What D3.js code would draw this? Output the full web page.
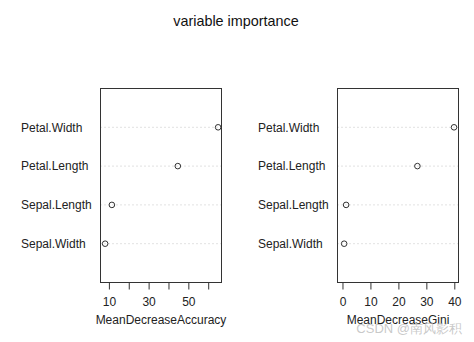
<!DOCTYPE html>
<html><head><meta charset="utf-8">
<script src="https://cdn.jsdelivr.net/npm/d3@7"></script>
<style>body{margin:0;background:#fff}svg{display:block}text{font-family:"Liberation Sans",Arial,sans-serif}</style>
</head><body>
<script>
const categories = ["Petal.Width","Petal.Length","Sepal.Length","Sepal.Width"];
const meanDecreaseAccuracy = [65.0, 44.7, 11.5, 8.1];
const meanDecreaseGini = [39.9, 26.8, 1.3, 0.6];
const accuracyLim = [5.77, 66.7];
const giniLim = [-1.78, 41.5];
const accuracyTicks = [10,20,30,40,50,60];
const accuracyTickLabels = ["10","","30","","50",""];
const giniTicks = [0,10,20,30,40];
const giniTickLabels = ["0","10","20","30","40"];

const W=474,H=342;
const svg=d3.select("body").append("svg").attr("width",W).attr("height",H);
svg.append("rect").attr("width",W).attr("height",H).attr("fill","#fff");

svg.append("text").attr("x",236).attr("y",26).attr("text-anchor","middle")
  .attr("font-size",14.4).attr("fill","#111").text("variable importance");

const y=d3.scaleLinear().domain([0,categories.length+1]).range([282.5,88.5]);

function panel(vals,lim,ticks,tickLabels,title,x0,x1,labelX){
  const x=d3.scaleLinear().domain(lim).range([x0,x1]);
  const g=svg.append("g");
  categories.forEach((c,i)=>{
    const yy=y(categories.length-i);
    g.append("line").attr("x1",x0).attr("x2",x1).attr("y1",yy).attr("y2",yy)
      .attr("stroke","#c4c4c4").attr("stroke-width",1).attr("stroke-dasharray","1,3");
    g.append("text").attr("x",labelX).attr("y",yy).attr("dy","0.35em")
      .attr("font-size",12).attr("fill","#222").text(c);
  });
  g.selectAll("circle.pt").data(vals).join("circle").attr("class","pt")
    .attr("cx",d=>x(d)).attr("cy",(d,i)=>y(categories.length-i)).attr("r",2.8)
    .attr("fill","none").attr("stroke","#333").attr("stroke-width",1);
  g.append("rect").attr("x",x0).attr("y",88.5).attr("width",x1-x0).attr("height",282.5-88.5)
    .attr("fill","none").attr("stroke","#333").attr("stroke-width",1);
  const ax=svg.append("g").attr("transform","translate(0,282.5)")
    .call(d3.axisBottom(x).tickValues(ticks).tickSize(7).tickPadding(8)
      .tickFormat((d,i)=>tickLabels[i]));
  ax.select(".domain").attr("d",`M${x(ticks[0])},0H${x(ticks[ticks.length-1])}`).attr("stroke","#333");
  ax.selectAll(".tick line").attr("stroke","#333");
  ax.selectAll(".tick text").attr("font-size",12).attr("fill","#222")
    .attr("font-family","Liberation Sans,Arial,sans-serif");
  svg.append("text").attr("x",(x0+x1)/2).attr("y",323.5).attr("text-anchor","middle")
    .attr("font-size",12).attr("fill","#222").text(title);
}
panel(meanDecreaseAccuracy,accuracyLim,accuracyTicks,accuracyTickLabels,"MeanDecreaseAccuracy",100.5,221.5,21);
panel(meanDecreaseGini,giniLim,giniTicks,giniTickLabels,"MeanDecreaseGini",337.5,458.5,258);

svg.append("text").attr("x",462).attr("y",333).attr("text-anchor","end")
  .attr("font-size",13).attr("fill","#bbb").attr("fill-opacity",0.8)
  .attr("font-family","Noto Sans CJK SC,sans-serif").text("CSDN @南风影积");
</script>
</body></html>
